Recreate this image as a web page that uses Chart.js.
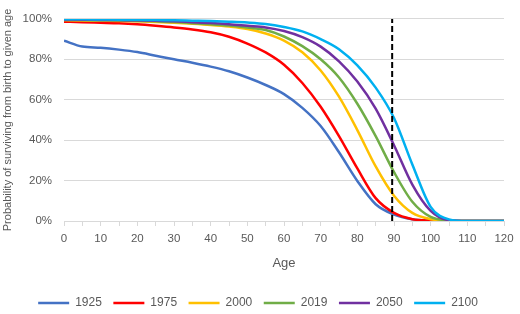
<!DOCTYPE html>
<html lang="en">
<head>
    <meta charset="UTF-8">
    <title>Probability of surviving from birth to given age</title>
    <script src="https://cdn.jsdelivr.net/npm/chart.js@4"></script>
    <style>
        body {
            margin: 0;
            padding: 0;
            background: #fff;
        }
        #wrap {
            width: 520px;
            height: 314px;
        }
    </style>
</head>
<body>
    <div id="wrap">
        <canvas id="survivalChart" width="520" height="314"></canvas>
    </div>

    <script>
        // ages sampled every 5 years
        const ages = [0, 5, 10, 15, 20, 25, 30, 35, 40, 45, 50, 55, 60, 65, 70, 75, 80, 85, 90, 95, 100, 105, 110, 115, 120];

        // survival (%)
        const s1925 = [89.2, 86.3, 85.7, 84.8, 83.6, 81.8, 80.0, 78.3, 76.4, 74.1, 71.0, 67.3, 62.8, 56.0, 47.0, 34.0, 19.8, 8.3, 3.2, 0.9, 0.2, 0, 0, 0, 0];
        const s1975 = [98.6, 98.4, 98.1, 97.8, 97.3, 96.6, 95.8, 94.8, 93.4, 91.2, 87.8, 83.4, 77.3, 68.3, 56.5, 42.0, 26.0, 11.3, 4.0, 0.9, 0.2, 0, 0, 0, 0];
        const s2000 = [99.4, 99.2, 99.1, 99.0, 98.8, 98.5, 98.1, 97.6, 97.0, 96.2, 95.0, 92.8, 89.3, 83.5, 74.5, 61.5, 45.0, 27.0, 12.5, 4.0, 0.9, 0.1, 0, 0, 0];
        const s2019 = [99.5, 99.4, 99.3, 99.2, 99.0, 98.8, 98.5, 97.9, 97.3, 96.7, 95.8, 94.5, 91.3, 86.5, 80.0, 71.0, 58.0, 42.0, 24.2, 9.5, 2.0, 0.3, 0, 0, 0];
        const s2050 = [99.7, 99.6, 99.5, 99.4, 99.3, 99.1, 98.8, 98.4, 98.0, 97.4, 96.6, 95.8, 94.0, 91.0, 86.3, 79.0, 69.0, 55.6, 37.5, 18.0, 5.0, 0.4, 0, 0, 0];
        const s2100 = [99.8, 99.8, 99.7, 99.6, 99.6, 99.4, 99.3, 99.1, 98.9, 98.6, 98.2, 97.5, 96.0, 93.8, 90.0, 85.0, 77.0, 66.0, 51.0, 28.0, 7.0, 0.8, 0, 0, 0];

        const years = ["1925", "1975", "2000", "2019", "2050", "2100"];
        const colors = ["#4472C4", "#FF0000", "#FFC000", "#70AD47", "#7030A0", "#00B0F0"];
        const seriesList = [s1925, s1975, s2000, s2019, s2050, s2100];

        // dashed reference age
        const markerAge = 89.5;
        const markerRange = [0, 100];

        const textColor = "#595959";
        const gridColor = "#D9D9D9";
        const fontFamily = "'Liberation Sans', Arial, sans-serif";

        const toPoints = (values) => ages.map((a, i) => ({ x: a, y: values[i] }));

        const datasets = seriesList.map((values, i) => ({
            label: years[i],
            data: toPoints(values),
            borderColor: colors[i],
            backgroundColor: colors[i],
            borderWidth: 2.5,
            pointRadius: 0,
            fill: false,
            cubicInterpolationMode: "monotone",
            order: seriesList.length - i
        }));

        datasets.push({
            label: "marker",
            data: markerRange.map(v => ({ x: markerAge, y: v })),
            borderColor: "#000",
            borderWidth: 2,
            borderDash: [6, 3],
            pointRadius: 0,
            fill: false,
            order: 0
        });

        // nudge the legend a little right and down, like the original
        const legendShift = {
            id: "legendShift",
            afterLayout(chart) {
                const lg = chart.legend;
                if (!lg) return;
                lg.left += 6;
                lg.right += 6;
                lg.top += 2;
                lg.bottom += 2;
            }
        };

        new Chart(document.getElementById("survivalChart").getContext("2d"), {
            type: "line",
            data: { datasets },
            plugins: [legendShift],
            options: {
                responsive: false,
                animation: false,
                layout: {
                    padding: { left: 0, right: 16, top: 13, bottom: -3 }
                },
                plugins: {
                    tooltip: { enabled: false },
                    legend: {
                        position: "bottom",
                        labels: {
                            filter: item => item.text !== "marker",
                            sort: (a, b) => a.datasetIndex - b.datasetIndex,
                            usePointStyle: true,
                            pointStyle: "line",
                            pointStyleWidth: 31,
                            padding: 11.5,
                            color: textColor,
                            font: { family: fontFamily, size: 12 }
                        }
                    }
                },
                scales: {
                    x: {
                        type: "linear",
                        min: 0,
                        max: 120,
                        afterFit: scale => { scale.height = 62.5; },
                        ticks: {
                            stepSize: 5,
                            autoSkip: false,
                            maxRotation: 0,
                            padding: 6,
                            color: textColor,
                            font: { family: fontFamily, size: 11.5 },
                            callback: v => (v % 10 === 0 ? v : "")
                        },
                        grid: {
                            drawOnChartArea: false,
                            drawTicks: true,
                            tickLength: 5,
                            color: gridColor
                        },
                        border: { color: gridColor, width: 1 },
                        title: {
                            display: true,
                            text: "Age",
                            color: textColor,
                            font: { family: fontFamily, size: 13 },
                            padding: { top: 4, bottom: 12 }
                        }
                    },
                    y: {
                        min: 0,
                        max: 100,
                        afterFit: scale => { scale.width = 64; },
                        ticks: {
                            stepSize: 20,
                            padding: 12,
                            color: textColor,
                            font: { family: fontFamily, size: 11.5 },
                            callback: v => v + "%"
                        },
                        grid: {
                            color: gridColor,
                            drawTicks: false
                        },
                        border: { display: false },
                        title: {
                            display: true,
                            text: "Probability of surviving from birth to given age",
                            color: textColor,
                            font: { family: fontFamily, size: 11 },
                            padding: { top: 1, bottom: 0 }
                        }
                    }
                }
            }
        });
    </script>
</body>
</html>
